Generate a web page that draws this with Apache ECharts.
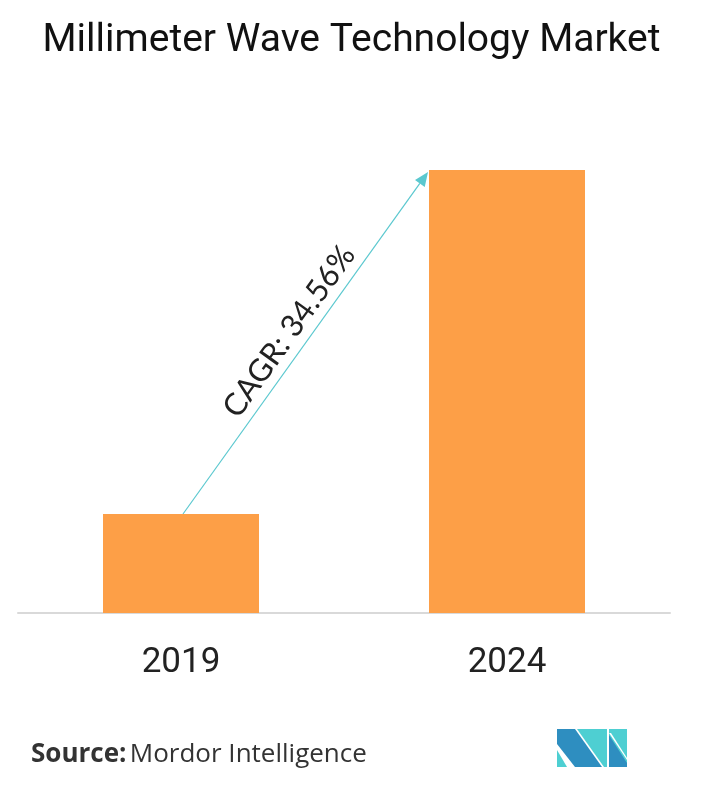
<!DOCTYPE html>
<html>
<head>
<meta charset="utf-8">
<script src="https://cdn.jsdelivr.net/npm/echarts@6/dist/echarts.min.js"></script>
<style>
html, body {margin:0; padding:0; background:#fff;}
#chart {width:703px; height:792px;}
</style>
</head>
<body>
<div id="chart"></div>
<script>
//	chart data
var years = ['2019', '2024'];
var marketSize = [0.99, 4.43];	// relative bar heights
var cagrText = 'CAGR: 34.56%';
var titleText = 'Millimeter Wave Technology Market';

var barColor = '#fd9f47',
	arrowColor = '#5bc8cf',
	barW = 156;

var myChart = echarts.init(document.getElementById('chart'));

var option = {
	animation: false,
	title: {
		text: titleText,
		left: 'center',
		top: 17,
		textStyle: {
			fontFamily: 'Roboto, sans-serif',
			fontWeight: 'normal',
			fontSize: 39,
			color: '#111'
		}
	},
	grid: {
		left: 18,
		right: 33,
		top: 113,
		bottom: 179
	},
	xAxis: {
		type: 'category',
		data: years,
		axisTick: {show: false},
		axisLine: {lineStyle: {color: '#d9d9d9', width: 2}},
		axisLabel: {
			margin: 33,
			fontFamily: 'Roboto, sans-serif',
			fontSize: 35,
			color: '#222'
		}
	},
	yAxis: {
		type: 'value',
		min: 0,
		max: 5,
		show: false
	},
	series: [
		{
			type: 'bar',
			data: marketSize,
			barWidth: barW,
			itemStyle: {color: barColor}
		}
	],
	graphic: []
};
myChart.setOption(option);

//	arrow from the 2019 bar top to the top left corner of the 2024 bar
var p0 = myChart.convertToPixel({seriesIndex: 0}, [0, marketSize[0]]);
var p1 = myChart.convertToPixel({seriesIndex: 0}, [1, marketSize[1]]);
var x0 = p0[0] + 2, y0 = p0[1];
var x1 = p1[0] - barW/2 - 1, y1 = p1[1] + 2;
var dx = x1 - x0, dy = y1 - y0;
var len = Math.sqrt(dx*dx + dy*dy);
var ux = dx/len, uy = dy/len;	// unit along the arrow
var nx = uy, ny = -ux;			// normal, pointing up-left
var headL = 14, headW = 6;

var bx = x1 - ux*headL, by = y1 - uy*headL;
var ang = Math.atan2(-dy, dx);
var mx = (x0 + x1)/2 + nx*20, my = (y0 + y1)/2 + ny*20;

myChart.setOption({
	graphic: [
		{
			type: 'line',
			shape: {x1: x0, y1: y0, x2: bx, y2: by},
			style: {stroke: arrowColor, lineWidth: 1.2}
		},
		{
			type: 'polygon',
			shape: {points: [[x1, y1], [bx + nx*headW, by + ny*headW], [bx - nx*headW, by - ny*headW]]},
			style: {fill: arrowColor}
		},
		{
			type: 'text',
			x: mx,
			y: my,
			rotation: ang,
			style: {
				text: cagrText,
				align: 'center',
				verticalAlign: 'middle',
				fontFamily: 'Lato, Noto Sans, sans-serif',
				fontWeight: 'normal',
				fontSize: 31,
				fill: '#222'
			}
		},
		{
			type: 'text',
			left: 31,
			top: 742,
			style: {
				rich: {
					b: {fontFamily: 'Open Sans, Noto Sans, sans-serif', fontWeight: 'bold', fontSize: 26, fill: '#333'},
					n: {fontFamily: 'Open Sans, Noto Sans, sans-serif', fontWeight: 'normal', fontSize: 26, fill: '#333'}
				},
				text: '{b|Source:} {n|Mordor Intelligence}'
			}
		},
		//	logo
		{
			type: 'group',
			left: 557,
			top: 729,
			children: [
				{type: 'polygon', shape: {points: [[0,0],[18,0],[45,38],[18,38],[0,15]]}, style: {fill: '#2e8ec0'}},
				{type: 'polygon', shape: {points: [[0,21],[0,38],[10,38]]}, style: {fill: '#4ecfd2'}},
				{type: 'polygon', shape: {points: [[20,0],[50,0],[50,38],[47,38]]}, style: {fill: '#4ecfd2'}},
				{type: 'rect', shape: {x: 52, y: 0, width: 18, height: 38}, style: {fill: '#4ecfd2'}},
				{type: 'polygon', shape: {points: [[52,6],[70,34],[70,38],[52,38]]}, style: {fill: '#2e8ec0'}},
				{type: 'polygon', shape: {points: [[52,4],[54,4],[70,29],[70,31]]}, style: {fill: '#ffffff'}}
			]
		}
	]
});
</script>
</body>
</html>
